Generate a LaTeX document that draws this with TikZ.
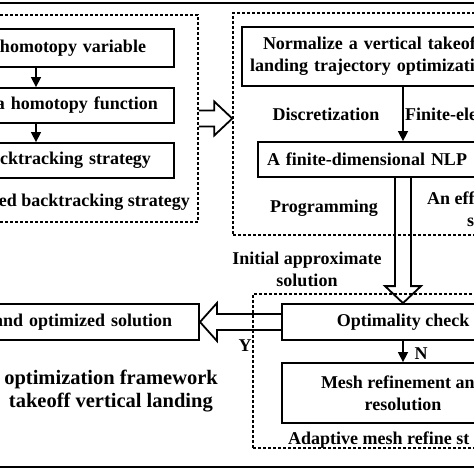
\documentclass[tikz,border=0pt]{standalone}
\usepackage{fontspec}
\setmainfont{Liberation Serif}
\usetikzlibrary{arrows.meta, calc}
\newcommand{\bodyfont}{\fontsize{18}{22}\selectfont\bfseries}
\newcommand{\titlefont}{\fontsize{20.5}{23}\selectfont\bfseries}

\begin{document}
\begin{tikzpicture}[x=1pt, y=-1pt,
      blk/.style={draw, line width=1.8pt, inner sep=0pt, font=\bodyfont},
      grp/.style={draw, line width=1.5pt, dash pattern=on 3pt off 2pt, inner sep=0pt},
      lbl/.style={inner sep=0pt, font=\bodyfont},
      arr/.style={line width=1.5pt, -{Triangle[length=10pt,width=10pt]}},
      hollow/.style={line width=1.8pt, line join=miter}]
    \useasboundingbox (0,0) rectangle (474,474);
    \clip (0,0) rectangle (474,474);
    \draw[line width=1.8pt] (-10,3) rectangle (484,467);
    % dashed groups
    \node[grp, minimum width=208pt, minimum height=207pt] (grpL) at (94,118.5) {};
    \node[grp, minimum width=340pt, minimum height=222pt] (grpR) at (403,124) {};
    \node[grp, minimum width=300pt, minimum height=154pt] (grpB) at (403,371) {};
    % left column
    \node[blk, minimum height=38pt, text width=220pt, inner xsep=28pt, align=right] (hv) at (36,48) {homotopy variable};
    \node[blk, minimum height=35pt, text width=244pt, inner xsep=16pt, align=right] (hf) at (36,105.5) {a homotopy function};
    \node[blk, minimum height=35pt, text width=230pt, inner xsep=23pt, align=right] (bt) at (36,160.5) {cktracking strategy};
    \node[lbl, anchor=east] (ebs) at (190,202) {ed backtracking strategy};
    \draw[arr] (hv) -- (hf);
    \draw[arr] (hf) -- (bt);
    % upper right
    \node[blk, minimum height=59pt, text width=306pt, inner xsep=8pt, align=left] (norm) at (403,56.5)
          {\hspace*{13pt}Normalize a vertical takeof\\landing trajectory optimizati};
    \node[blk, minimum height=35pt, text width=272pt, inner xsep=9pt, align=left] (nlp) at (403,159.5) {A finite-dimensional NLP};
    \draw[arr] (norm) -- (nlp);
    \node[lbl] (disc) at (326,114) {Discretization};
    \node[lbl, anchor=west] (fe) at (405,114) {Finite-ele};
    \node[lbl] (prog) at (324,208) {Programming};
    \node[lbl, anchor=west, align=left] (eff) at (427,209) {An eff\\\hspace*{40pt}s};
    \node[lbl, align=center] (init) at (307,269) {Initial approximate\\solution};
    % lower right
    \node[blk, minimum width=242pt, minimum height=36pt] (opt) at (403,322) {Optimality check};
    \node[blk, minimum width=242pt, minimum height=60pt, align=center] (mesh) at (403,393)
          {\makebox[164pt][l]{Mesh refinement an}\\resolution};
    \draw[arr] (opt) -- (mesh);
    \node[lbl] (nlab) at (421,354) {N};
    \node[lbl, anchor=west] (ams) at (288,440) {Adaptive mesh refine st};
    % lower left
    \node[blk, minimum height=36pt, text width=240pt, inner xsep=27pt, align=right, anchor=east] (sol) at (200,322)
          {and optimized solution};
    \node[lbl] (ylab) at (245,346) {Y};
    \node[inner sep=0pt, font=\titlefont, align=right, anchor=east] (ttl) at (218,391.5)
          {optimization framework\\takeoff vertical landing\hspace*{5pt}};
    % hollow arrows
    \coordinate (tipR) at (grpR.west |- grpL.east);
    \draw[hollow] ($(grpL.east)+(0,-8)$) -- ($(tipR)+(-18,-8)$) -- ($(tipR)+(-18,-17)$) -- (tipR)
          -- ($(tipR)+(-18,17)$) -- ($(tipR)+(-18,8)$) -- ($(grpL.east)+(0,8)$);
    \draw[hollow] ($(nlp.south)+(-8,0)$) -- ($(opt.north)+(-8,-17)$) -- ($(opt.north)+(-18,-17)$) -- (opt.north)
          -- ($(opt.north)+(18,-17)$) -- ($(opt.north)+(8,-17)$) -- ($(nlp.south)+(8,0)$);
    \draw[hollow] ($(opt.west)+(0,-8)$) -- ($(sol.east)+(17,-8)$) -- ($(sol.east)+(17,-19)$) -- (sol.east)
          -- ($(sol.east)+(17,19)$) -- ($(sol.east)+(17,8)$) -- ($(opt.west)+(0,8)$);
\end{tikzpicture}
\end{document}
